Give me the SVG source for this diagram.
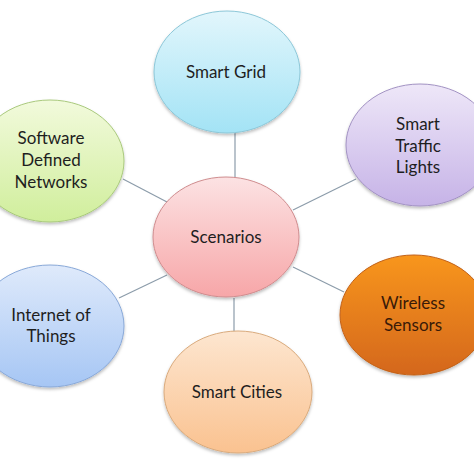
<svg xmlns="http://www.w3.org/2000/svg" width="474" height="474" viewBox="0 0 474 474">
<defs>
<linearGradient id="gGrid" x1="0" y1="0" x2="0" y2="1"><stop offset="0" stop-color="#e2f6fc"/><stop offset="1" stop-color="#a3e3f5"/></linearGradient>
<linearGradient id="gScen" x1="0" y1="0" x2="0" y2="1"><stop offset="0" stop-color="#fce2e3"/><stop offset="1" stop-color="#f7a6a8"/></linearGradient>
<linearGradient id="gSdn" x1="0" y1="0" x2="0" y2="1"><stop offset="0" stop-color="#f2fadc"/><stop offset="1" stop-color="#d0ee9c"/></linearGradient>
<linearGradient id="gTraf" x1="0" y1="0" x2="0" y2="1"><stop offset="0" stop-color="#eee7f8"/><stop offset="1" stop-color="#c6b3e7"/></linearGradient>
<linearGradient id="gIot" x1="0" y1="0" x2="0" y2="1"><stop offset="0" stop-color="#dfeafb"/><stop offset="1" stop-color="#a6c6f4"/></linearGradient>
<linearGradient id="gWire" x1="0" y1="0" x2="0" y2="1"><stop offset="0" stop-color="#f8961f"/><stop offset="1" stop-color="#d4671a"/></linearGradient>
<linearGradient id="gCity" x1="0" y1="0" x2="0" y2="1"><stop offset="0" stop-color="#fde6d0"/><stop offset="1" stop-color="#fac290"/></linearGradient>
<filter id="sh" x="-20%" y="-20%" width="140%" height="150%"><feDropShadow dx="0" dy="2" stdDeviation="1.5" flood-color="#000" flood-opacity="0.25"/></filter>
</defs>
<style>
.n{filter:url(#sh);stroke-width:1}
.t{font-family:Lato,"Open Sans","Liberation Sans",sans-serif;font-size:17px;fill:#1e1e1e;text-anchor:middle}
.c line{stroke:#8c9caa;stroke-width:1.2}
</style>
<rect width="474" height="474" fill="#ffffff"/>
<g class="c" id="connectors">
<line x1="235" y1="133" x2="235" y2="177"/>
<line x1="123" y1="179" x2="167" y2="202"/>
<line x1="356" y1="179" x2="293" y2="210"/>
<line x1="119" y1="298" x2="167" y2="275"/>
<line x1="293" y1="267" x2="344" y2="292"/>
<line x1="234" y1="298" x2="234" y2="332"/>
</g>
<g id="smart-grid"><ellipse class="n" cx="227" cy="72" rx="73" ry="61" fill="url(#gGrid)" stroke="#8cc7d8"/><text class="t" x="226" y="78">Smart Grid</text></g>
<g id="scenarios"><ellipse class="n" cx="226" cy="237" rx="73" ry="60" fill="url(#gScen)" stroke="#cf8c8e"/><text class="t" x="226" y="243">Scenarios</text></g>
<g id="sdn"><ellipse class="n" cx="50" cy="161" rx="74" ry="61" fill="url(#gSdn)" stroke="#a9c97c"/><text class="t" x="51" y="144">Software</text><text class="t" x="51" y="166">Defined</text><text class="t" x="51" y="188">Networks</text></g>
<g id="traffic"><ellipse class="n" cx="420" cy="145" rx="74" ry="61" fill="url(#gTraf)" stroke="#a292c3"/><text class="t" x="418" y="130">Smart</text><text class="t" x="418" y="152">Traffic</text><text class="t" x="418" y="173">Lights</text></g>
<g id="iot"><ellipse class="n" cx="50" cy="326" rx="74" ry="61" fill="url(#gIot)" stroke="#88a8d8"/><text class="t" x="51" y="321">Internet of</text><text class="t" x="51" y="342">Things</text></g>
<g id="wireless"><ellipse class="n" cx="414" cy="315" rx="74" ry="60" fill="url(#gWire)" stroke="#c26119"/><text class="t" x="413" y="309" style="fill:#3a1a08">Wireless</text><text class="t" x="413" y="331" style="fill:#3a1a08">Sensors</text></g>
<g id="smart-cities"><ellipse class="n" cx="238" cy="392" rx="74" ry="61" fill="url(#gCity)" stroke="#d9aa7c"/><text class="t" x="237" y="398">Smart Cities</text></g>
</svg>
